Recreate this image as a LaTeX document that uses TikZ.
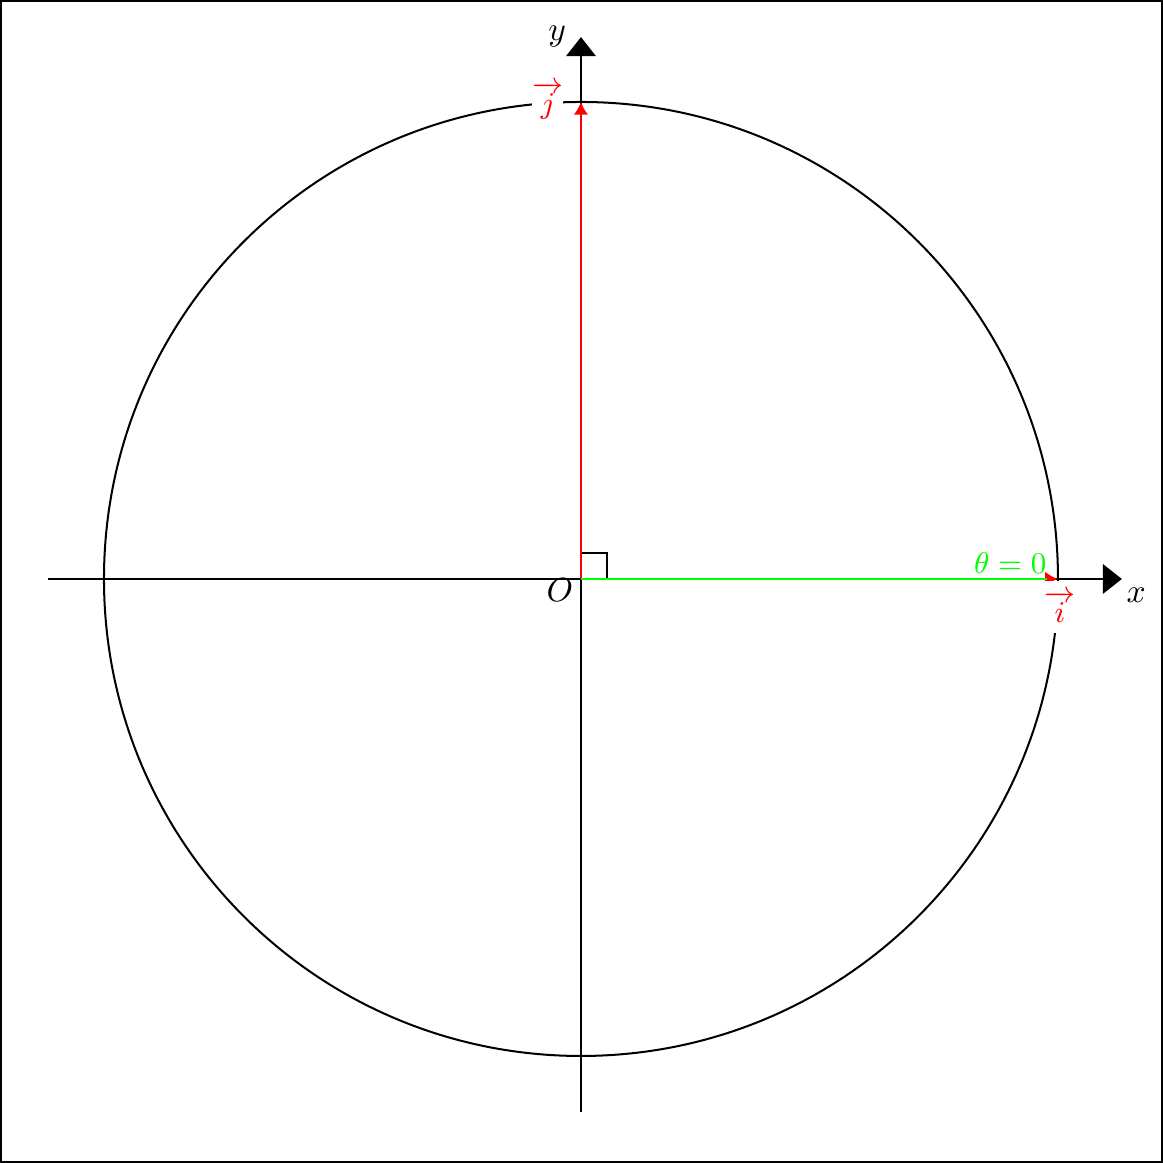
\documentclass[tikz,border=0pt]{standalone}
\usepackage{amsmath}
\usetikzlibrary{arrows.meta}
\begin{document}
\begin{tikzpicture}[
  thinline/.style={line width=0.6pt},
  axis/.style={line width=0.6pt, -{Triangle[length=0.2cm,width=0.31cm]}},
  vecarrow/.style={red, line width=0.7pt, -{Latex[length=3.8pt,width=4.4pt]}},
  veclabel/.style={fill=white, inner xsep=0pt, inner ysep=3pt, text=red, font=\small},
]
\useasboundingbox (-6.090,-6.122) rectangle (6.101,6.069);
\draw[line width=0.6pt] (-6.0795,-6.1115) rectangle (6.0905,6.0585);
\coordinate (O) at (0,0);
\coordinate (I) at (5,0);
\coordinate (J) at (0,5);
\coordinate (xl) at (-5.59,0);
\coordinate (xr) at (5.67,0);
\coordinate (yb) at (0,-5.59);
\coordinate (yt) at (0,5.68);
\draw[thinline] (O) circle[radius=5];
\draw[axis] (xl) -- (xr);
\draw[axis] (yb) -- (yt);
\draw[thinline] (0.27,0) -- (0.27,0.27) -- (0,0.27);
\draw[vecarrow] (O) -- (J);
\draw[vecarrow] (O) -- (I);
\draw[green, line width=0.8pt, shorten >=0.12cm] (O) -- (I);
\node[veclabel] (ilbl) at (5.02,-0.294) {$\overrightarrow{i}$};
\node[veclabel] (jlbl) at (-0.346,5.016) {$\overrightarrow{j}$};
\node[text=green, font=\small] (th) at (4.50,0.17) {$\theta=0$};
\node (Olbl) at (-0.22,-0.12) {$O$};
\node (xlbl) at (5.82,-0.17) {$x$};
\node (ylbl) at (-0.25,5.69) {$y$};
\end{tikzpicture}
\end{document}
